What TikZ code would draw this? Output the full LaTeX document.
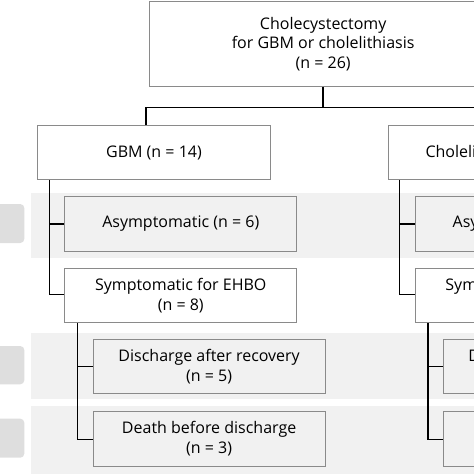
\documentclass[tikz,border=0pt]{standalone}
\usepackage{fontspec}
\setmainfont{Open Sans}
\begin{document}
\begin{tikzpicture}[x=1pt,y=-1pt,
  box/.style={draw=boxgray, line width=0.9pt, fill=white, inner sep=0pt, align=center, anchor=north west, font=\fontsize{16}{19.5}\selectfont},
  graybox/.style={box, fill=bandgray},
  conn/.style={draw=black, line width=1.4pt},
  band/.style={fill=bandgray, draw=none},
  tab/.style={fill=tabgray, draw=none, rounded corners=4pt}
]
\definecolor{boxgray}{HTML}{8A8A8A}
\definecolor{bandgray}{HTML}{F1F1F1}
\definecolor{tabgray}{HTML}{DEDEDE}
\useasboundingbox (0,0) rectangle (474,474);
\clip (0,0) rectangle (474,474);
% bands
\fill[band] (31,192.7) rectangle (480,258.3);
\fill[band] (31,333.3) rectangle (480,398.7);
\fill[band] (31,406) rectangle (480,480);
% tabs
\fill[tab] (-10,204) rectangle (24.3,243);
\fill[tab] (-10,346) rectangle (24.3,384.3);
\fill[tab] (-10,418.7) rectangle (24.3,457.7);
% top box
\node[box, minimum width=348pt, minimum height=84.7pt] (top) at (148.7,1) {Cholecystectomy\\for GBM or cholelithiasis\\(n = 26)};
% left column
\node[box, minimum width=232.4pt, minimum height=54.3pt] (gbm) at (37.3,125) {GBM (n = 14)};
\node[graybox, minimum width=232pt, minimum height=55pt] (asy) at (64.3,196) {Asymptomatic (n = 6)};
\node[box, minimum width=232pt, minimum height=54pt] (sym) at (64.3,268.3) {Symptomatic for EHBO\\(n = 8)};
\node[graybox, minimum width=232pt, minimum height=54pt] (dis) at (92.7,339.3) {Discharge after recovery\\(n = 5)};
\node[graybox, minimum width=232pt, minimum height=54.7pt] (dea) at (92.7,411) {Death before discharge\\(n = 3)};
% right column (cut off by the picture's right edge)
\node[box, minimum width=232.4pt, minimum height=54.3pt] (chol) at (387.7,125) {Cholelithiasis\phantom{ (n = 12)}};
\node[graybox, minimum width=232pt, minimum height=55pt] (asy2) at (414.7,196) {Asymptomatic\phantom{ (n = 6)}};
\node[box, minimum width=232pt, minimum height=54pt] (sym2) at (414.7,268.3) {Symptomatic for EHBO\\\phantom{(n = 8)}};
\node[graybox, minimum width=232pt, minimum height=54pt] (dis2) at (442.7,339.3) {Discharge after recovery\\\phantom{(n = 5)}};
\node[graybox, minimum width=232pt, minimum height=54.7pt] (dea2) at (442.7,411) {};
% connectors
\coordinate (split) at ([yshift=-21pt]top.south);
\coordinate (dl) at ([xshift=108.7pt]gbm.north west);
\coordinate (dr) at ([xshift=108.7pt]chol.north west);
\draw[conn] (top.south) -- (split);
\draw[conn] (dl) |- (split) -| (dr);
\draw[conn] ([xshift=12pt]gbm.south west) |- (asy.west);
\draw[conn] ([xshift=12pt]gbm.south west) |- ([yshift=-26pt]sym.north west);
\draw[conn] ([xshift=13.4pt]sym.south west) |- (dis.west);
\draw[conn] ([xshift=13.4pt]sym.south west) |- ([yshift=-28.3pt]dea.north west);
\draw[conn] ([xshift=12pt]chol.south west) |- (asy2.west);
\draw[conn] ([xshift=12pt]chol.south west) |- ([yshift=-26pt]sym2.north west);
\draw[conn] ([xshift=13.4pt]sym2.south west) |- (dis2.west);
\draw[conn] ([xshift=13.4pt]sym2.south west) |- ([yshift=-28.3pt]dea2.north west);
\end{tikzpicture}
\end{document}
